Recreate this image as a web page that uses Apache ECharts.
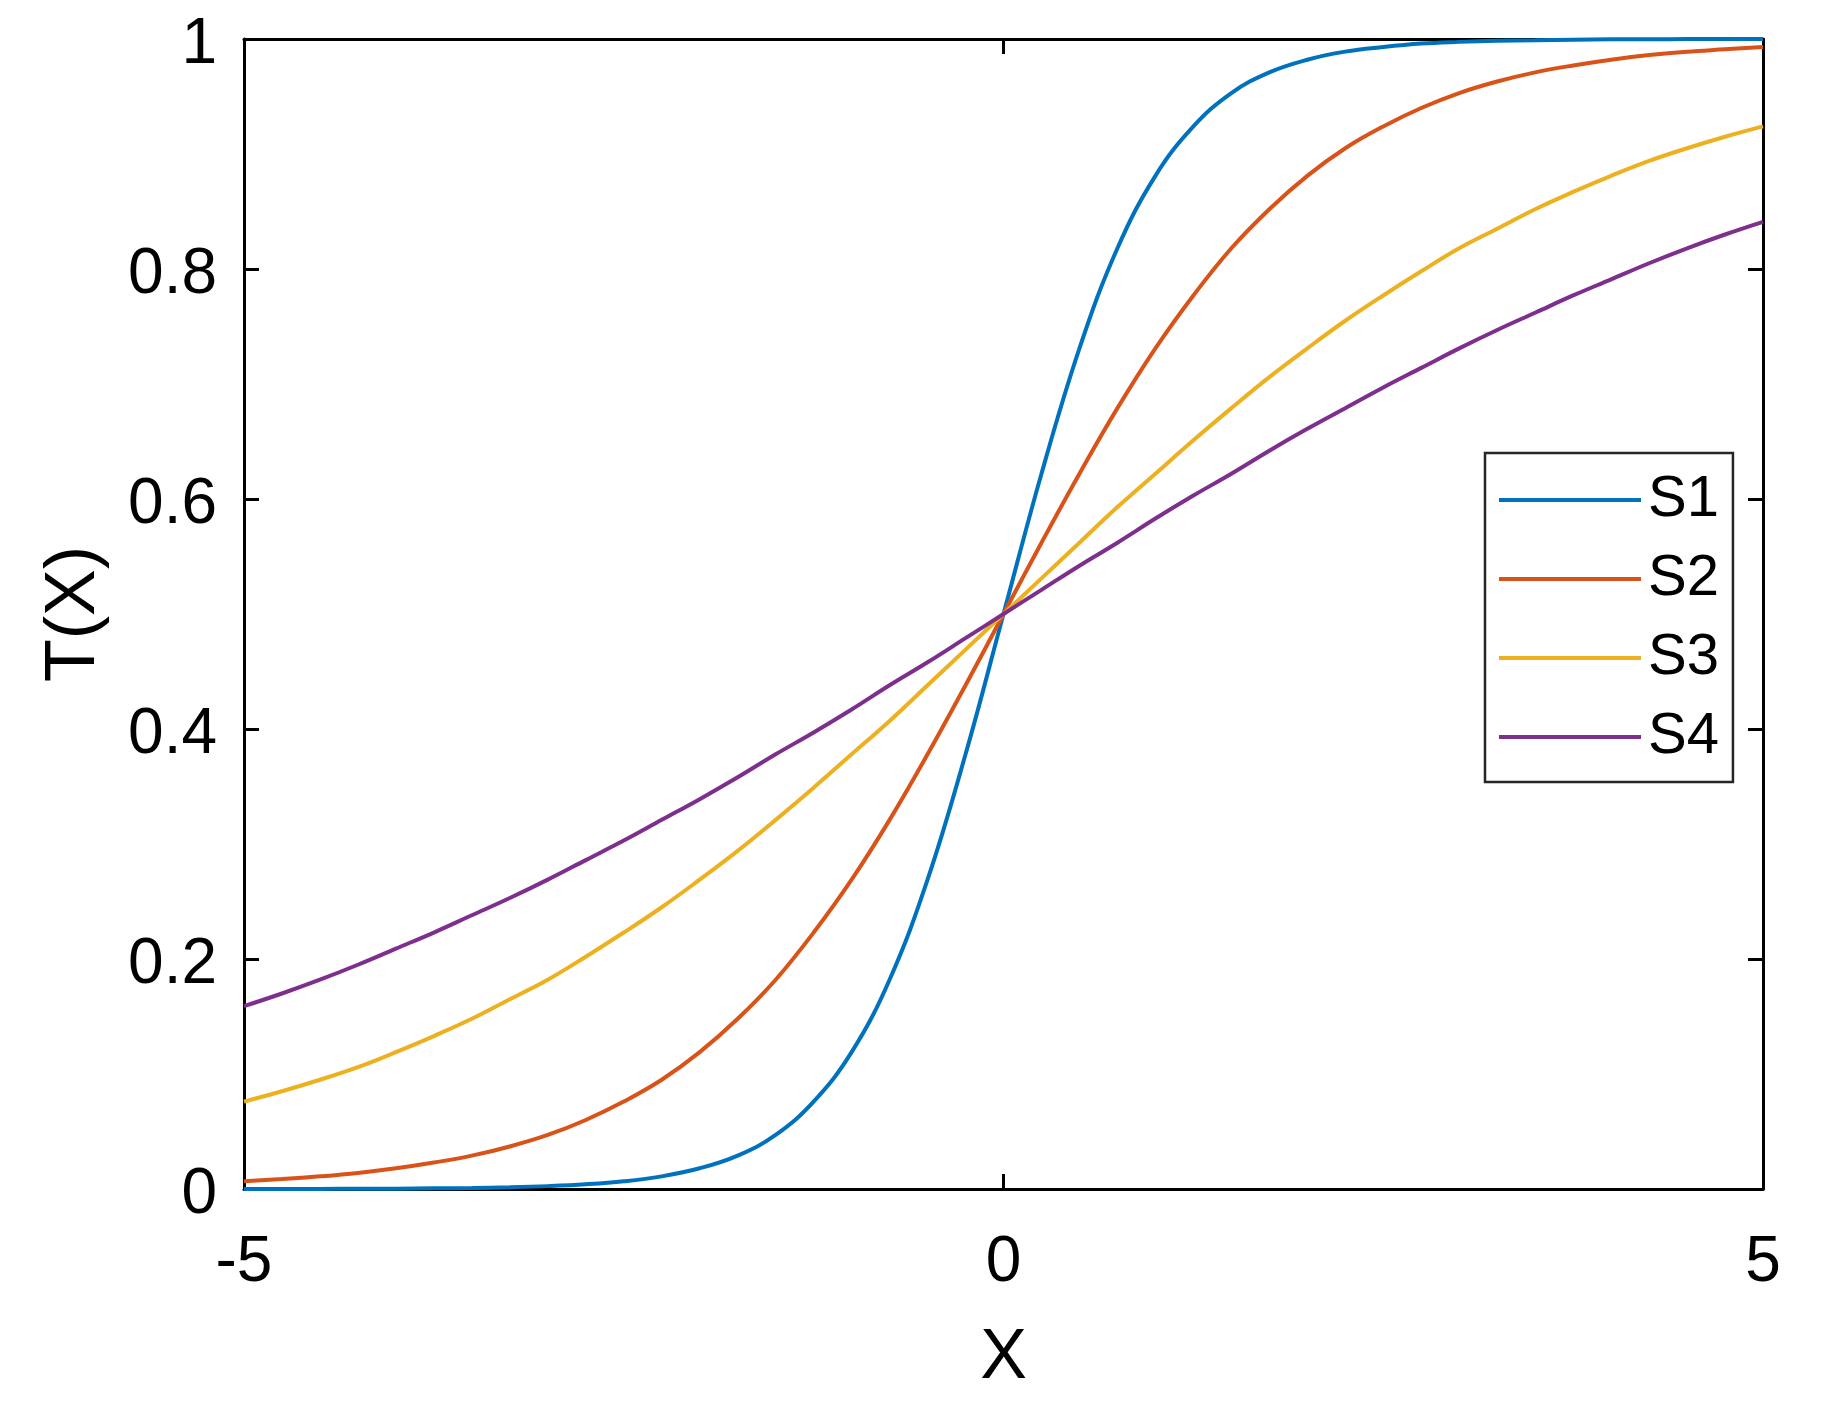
<!DOCTYPE html>
<html>
<head>
<meta charset="utf-8">
<script src="https://cdn.jsdelivr.net/npm/echarts@6/dist/echarts.min.js"></script>
<style>
  html, body { margin: 0; padding: 0; background: #fff; }
  #chart { width: 1829px; height: 1427px; }
</style>
</head>
<body>
<div id="chart"></div>
<script>
const xs = [-5, -4.75, -4.5, -4.25, -4, -3.75, -3.5, -3.25, -3, -2.75, -2.5, -2.25, -2, -1.75, -1.5, -1.25, -1, -0.75, -0.5, -0.25,
  0, 0.25, 0.5, 0.75, 1, 1.25, 1.5, 1.75, 2, 2.25, 2.5, 2.75, 3, 3.25, 3.5, 3.75, 4, 4.25, 4.5, 4.75, 5]

const s1 = [0.000, 0.0001, 0.0001, 0.0002, 0.0003, 0.0006, 0.0009, 0.0015, 0.0025, 0.0041, 0.0067, 0.011, 0.018, 0.029, 0.047, 0.076, 0.119, 0.182, 0.269, 0.378,
  0.5, 0.622, 0.731, 0.818, 0.881, 0.924, 0.953, 0.971, 0.982, 0.989, 0.993, 0.996, 0.9975, 0.9985, 0.999, 0.9994, 0.9997, 0.9998, 0.9999, 0.9999, 1.0]

const s2 = [0.0067, 0.0086, 0.011, 0.014, 0.018, 0.023, 0.029, 0.037, 0.047, 0.060, 0.076, 0.095, 0.119, 0.148, 0.182, 0.223, 0.269, 0.321, 0.378, 0.438,
  0.5, 0.562, 0.622, 0.679, 0.731, 0.777, 0.818, 0.852, 0.881, 0.905, 0.924, 0.940, 0.953, 0.963, 0.971, 0.977, 0.982, 0.986, 0.989, 0.991, 0.993]

const s3 = [0.076, 0.085, 0.095, 0.106, 0.119, 0.133, 0.148, 0.165, 0.182, 0.202, 0.223, 0.245, 0.269, 0.294, 0.321, 0.349, 0.378, 0.407, 0.438, 0.469,
  0.5, 0.531, 0.562, 0.593, 0.622, 0.651, 0.679, 0.706, 0.731, 0.755, 0.777, 0.798, 0.818, 0.835, 0.852, 0.867, 0.881, 0.894, 0.905, 0.915, 0.924]

const s4 = [0.159, 0.170, 0.182, 0.195, 0.209, 0.223, 0.238, 0.253, 0.269, 0.286, 0.303, 0.321, 0.339, 0.358, 0.378, 0.397, 0.417, 0.438, 0.458, 0.479,
  0.5, 0.521, 0.542, 0.562, 0.583, 0.603, 0.622, 0.642, 0.661, 0.679, 0.697, 0.714, 0.731, 0.747, 0.762, 0.777, 0.791, 0.805, 0.818, 0.830, 0.841]

const seriesNames = ['S1', 'S2', 'S3', 'S4']
const seriesColors = ['#0072BD', '#D95319', '#EDB120', '#7E2F8E']

const font = '"Liberation Sans", Arial, sans-serif'

const chart = echarts.init(document.getElementById('chart'))

const axisLine = { show: true, onZero: false, lineStyle: { color: '#000', width: 3 } }
const tickIn = { show: true, inside: true, length: 15, lineStyle: { color: '#000', width: 3 } }

const makeSeries = (name, vals, color) => ({
  name: name,
  type: 'line',
  data: xs.map((x, i) => [x, vals[i]]),
  symbol: 'none',
  smooth: 0.4,
  lineStyle: { color: color, width: 4 },
  itemStyle: { color: color },
  z: 3
})

const option = {
  backgroundColor: '#fff',
  animation: false,
  grid: { left: 244, right: 66, top: 39, bottom: 238 },
  legend: {
    orient: 'vertical',
    left: 1485,
    top: 453,
    data: seriesNames.map(n => ({ name: n, icon: 'rect' })),
    itemWidth: 142,
    itemHeight: 4,
    itemGap: 21,
    padding: [18, 14, 16, 14],
    borderColor: '#262626',
    borderWidth: 2.5,
    backgroundColor: '#fff',
    textStyle: { fontFamily: font, fontSize: 58, color: '#000', padding: [0, 0, 0, 2] }
  },
  xAxis: [
    {
      type: 'value',
      min: -5,
      max: 5,
      interval: 5,
      name: 'X',
      nameLocation: 'middle',
      nameGap: 135,
      nameTextStyle: { fontFamily: font, fontSize: 70, color: '#000' },
      axisLine: axisLine,
      axisTick: tickIn,
      axisLabel: { fontFamily: font, fontSize: 64, color: '#000', margin: 42 },
      splitLine: { show: false }
    },
    {
      type: 'value',
      position: 'top',
      min: -5,
      max: 5,
      interval: 5,
      axisLine: axisLine,
      axisTick: tickIn,
      axisLabel: { show: false },
      splitLine: { show: false }
    }
  ],
  yAxis: [
    {
      type: 'value',
      min: 0,
      max: 1,
      interval: 0.2,
      name: 'T(X)',
      nameLocation: 'middle',
      nameGap: 134,
      nameTextStyle: { fontFamily: font, fontSize: 70, color: '#000' },
      axisLine: axisLine,
      axisTick: tickIn,
      axisLabel: { fontFamily: font, fontSize: 64, color: '#000', margin: 27, verticalAlign: 'top', lineHeight: 12 },
      splitLine: { show: false }
    },
    {
      type: 'value',
      position: 'right',
      min: 0,
      max: 1,
      interval: 0.2,
      axisLine: axisLine,
      axisTick: tickIn,
      axisLabel: { show: false },
      splitLine: { show: false }
    }
  ],
  series: [
    makeSeries(seriesNames[0], s1, seriesColors[0]),
    makeSeries(seriesNames[1], s2, seriesColors[1]),
    makeSeries(seriesNames[2], s3, seriesColors[2]),
    makeSeries(seriesNames[3], s4, seriesColors[3])
  ]
}

chart.setOption(option)
</script>
</body>
</html>
